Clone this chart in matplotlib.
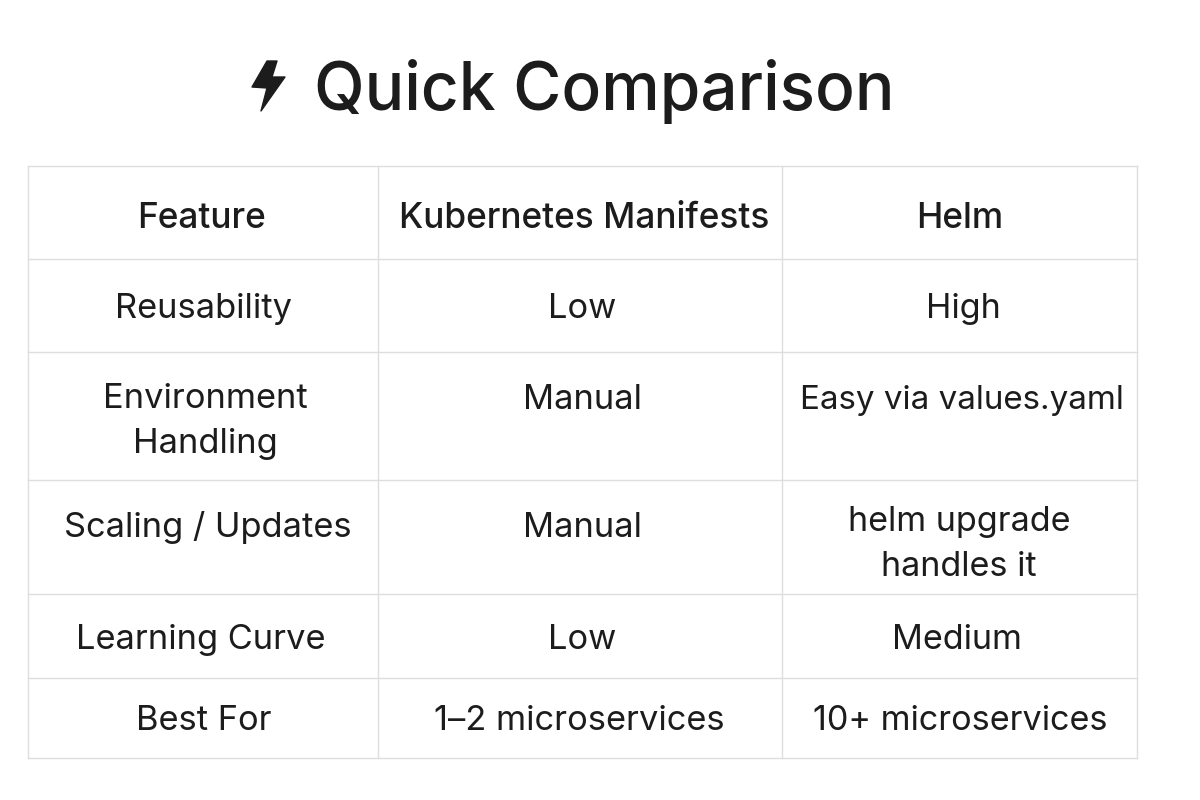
import matplotlib
matplotlib.use("Agg")
import matplotlib.pyplot as plt
from matplotlib.patches import Polygon

plt.rcParams['font.family'] = ['Inter', 'DejaVu Sans']

TITLE = "Quick Comparison"
headers = ["Feature", "Kubernetes Manifests", "Helm"]
feature = ["Reusability", "Environment\nHandling", "Scaling / Updates", "Learning Curve", "Best For"]
manifests = ["Low", "Manual", "Manual", "Low", "1–2 microservices"]
helm = ["High", "Easy via values.yaml", "helm upgrade\nhandles it", "Medium", "10+ microservices"]

col_edges = [27.5, 377.5, 781.5, 1136.5]
row_edges = [165.5, 258.5, 351.5, 479.5, 593.5, 677.5, 757.5]
header_x = [202, 584, 960]
col_x_rows = [
    [204, 582, 963],
    [205, 582, 962],
    [208, 582, 959],
    [201, 582, 957],
    [204, 579, 960],
]
y_feature = [309, 421, 528, 640, 721]
y_manifests = [309, 400, 528, 640, 721]
y_helm = [309, 400, 544.5, 640, 721]
helm_sizes = [24.6, 23.9, 24.6, 24.6, 24.6]

fig = plt.figure(figsize=(12, 8), dpi=100)
ax = fig.add_axes([0, 0, 1, 1])
ax.set_xlim(0, 1200)
ax.set_ylim(800, 0)
ax.axis("off")

line = "#dedede"
for x in col_edges:
    ax.plot([x, x], [row_edges[0], row_edges[-1]], color=line, lw=1.0, solid_capstyle="projecting")
for y in row_edges:
    ax.plot([col_edges[0], col_edges[-1]], [y, y], color=line, lw=1.0, solid_capstyle="projecting")

ink = "#1c1c1c"
ax.text(604, 91, TITLE, fontsize=47.4, ha="center", va="center", color=ink, fontweight="medium")
bolt = [(267, 61), (277, 61), (272, 77), (285, 77), (261, 111), (267, 88), (252, 87)]
ax.add_patch(Polygon(bolt, closed=True, facecolor=ink, edgecolor=ink, lw=1, joinstyle="round"))

fs = 24.8
for h, x in zip(headers, header_x):
    ax.text(x, 218, h, fontsize=25.4, ha="center", va="center", color=ink, fontweight="medium")

for i in range(5):
    ax.text(col_x_rows[i][0], y_feature[i], feature[i], fontsize=fs, ha="center", va="center", color=ink, linespacing=1.52)
    ax.text(col_x_rows[i][1], y_manifests[i], manifests[i], fontsize=fs, ha="center", va="center", color=ink)
    ax.text(col_x_rows[i][2], y_helm[i], helm[i], fontsize=helm_sizes[i], ha="center", va="center", color=ink, linespacing=1.5)

fig.savefig("out.png", dpi=100, facecolor="white")
